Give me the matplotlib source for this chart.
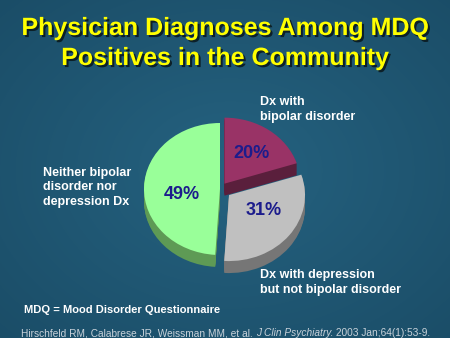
import numpy as np
import matplotlib
matplotlib.use('Agg')
import matplotlib.pyplot as plt
import matplotlib.patheffects as pe

# slices, counter-clockwise from 12 o'clock
shares = [49, 31, 20]
pct_labels = ['49%', '31%', '20%']
top_colors = ['#99ff99', '#c0c0c0', '#993366']
side_colors = ['#5e9a55', '#767676', '#5a1f3c']
explode = [0, 0.15, 0.1]

title_lines = ['Physician Diagnoses Among MDQ', 'Positives in the Community']
note = 'MDQ = Mood Disorder Questionnaire'
cite_parts = ['Hirschfeld RM, Calabrese JR, Weissman MM, et al. ', 'J Clin Psychiatry.', ' 2003 Jan;64(1):53-9.']

plt.rcParams['font.family'] = ['Liberation Sans', 'DejaVu Sans']

W, H = 450, 338
fig = plt.figure(figsize=(4.5, 3.38), dpi=100)

# background, in pixel coordinates
bg = fig.add_axes([0, 0, 1, 1])
bg.set_xlim(0, W)
bg.set_ylim(H, 0)
bg.axis('off')
yy, xx = np.mgrid[0:H, 0:W]
r = np.hypot((xx - 230) / W, (yy - 170) / H)
c0 = np.array([0x25, 0x62, 0x80]) / 255
c1 = np.array([0x1a, 0x4c, 0x66]) / 255
t = np.clip(r / 0.75, 0, 1)[..., None]
bg.imshow(c0 * (1 - t) + c1 * t, extent=(0, W, H, 0), aspect='auto', zorder=0)

# pie axes: 1 unit = 76 px across, 66 px down
cx, cy, rx, ry = 220, 189, 76, 66
ax = fig.add_axes([(cx - 1.5 * rx) / W, (H - cy - 1.5 * ry) / H, 3 * rx / W, 3 * ry / H])
step = 1.0 / ry
for k in range(12, 0, -1):
    ax.pie(shares, explode=explode, colors=side_colors, startangle=90,
           counterclock=True, center=(0, -k * step), wedgeprops=dict(linewidth=0))
ax.pie(shares, explode=explode, colors=top_colors, startangle=90,
       counterclock=True, wedgeprops=dict(linewidth=0))
ax.set_xlim(-1.5, 1.5)
ax.set_ylim(-1.5, 1.5)
ax.set_aspect('auto')
ax.axis('off')

# percent labels near slice middles
start = 90
for share, lab, ex, dist, dy in zip(shares, pct_labels, explode,
                                    [0.5, 0.57, 0.6], [-0.1, 0.12, -0.03]):
    mid = np.deg2rad(start + share * 3.6 / 2)
    start += share * 3.6
    rr = dist + ex
    ax.text(rr * np.cos(mid), rr * np.sin(mid) + dy, lab, ha='center', va='center',
            fontsize=13, fontweight='bold', color='#1c1c8c')

# title with drop shadow
shadow = [pe.withSimplePatchShadow(offset=(1.5, -1.5), shadow_rgbFace='#0a1a20', alpha=0.9)]
for line, base in zip(title_lines, [35, 65]):
    bg.text(225, base, line, ha='center', va='baseline', fontsize=18,
            fontweight='bold', color='#ffff00', path_effects=shadow)

# slice captions
captions = [
    (260, [105, 120], ['Dx with', 'bipolar disorder']),
    (43, [176, 190.5, 205], ['Neither bipolar', 'disorder nor', 'depression Dx']),
    (260, [278, 293], ['Dx with depression', 'but not bipolar disorder']),
]
for x, bases, lines in captions:
    for base, line in zip(bases, lines):
        bg.text(x, base, line, ha='left', va='baseline', fontsize=9,
                fontweight='bold', color='white')

bg.text(24, 313, note, ha='left', va='baseline', fontsize=8,
        fontweight='bold', color='white')

# citation, journal name in italics
prev = bg.text(21, 336, cite_parts[0], ha='left', va='baseline', fontsize=7.3, color='#c8d2da')
for part, style in zip(cite_parts[1:], ['italic', 'normal']):
    prev = bg.annotate(part, xy=(1, 0), xycoords=prev, ha='left', va='bottom',
                       fontsize=7.3, style=style, color='#c8d2da')

fig.savefig('out.png', dpi=100)
